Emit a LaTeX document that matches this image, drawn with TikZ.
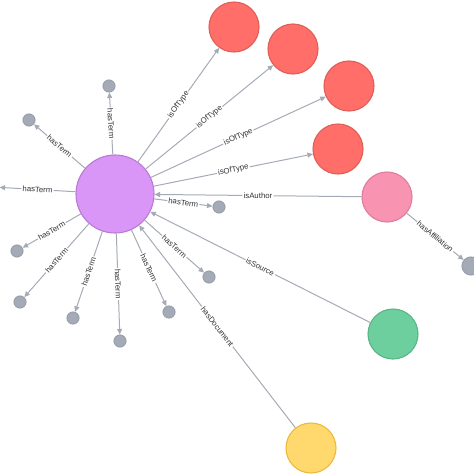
\documentclass[tikz,border=0pt]{standalone}
\usepackage{fontspec}
\setmainfont{Liberation Sans}
\usetikzlibrary{arrows.meta}
\definecolor{edgec}{HTML}{A5ABB6}
\definecolor{labc}{HTML}{333333}
\definecolor{purpf}{HTML}{DA96F6}
\definecolor{purpd}{HTML}{B97AD6}
\definecolor{redf}{HTML}{FF6E68}
\definecolor{redd}{HTML}{E05E57}
\definecolor{pinkf}{HTML}{F893B2}
\definecolor{pinkd}{HTML}{DE7E9C}
\definecolor{greenf}{HTML}{6DCE9E}
\definecolor{greend}{HTML}{5AB487}
\definecolor{yelf}{HTML}{FFD86E}
\definecolor{yeld}{HTML}{EDBA39}
\definecolor{grayf}{HTML}{A5ABB6}
\definecolor{grayd}{HTML}{9AA1AC}
\begin{document}
\begin{tikzpicture}[x=1pt,y=-1pt,
  nd/.style={circle, draw, line width=1.1pt, inner sep=0pt},
  hub/.style={nd, fill=purpf, draw=purpd, minimum size=78pt},
  typenode/.style={nd, fill=redf, draw=redd, minimum size=50pt},
  authnode/.style={nd, fill=pinkf, draw=pinkd, minimum size=50pt},
  srcnode/.style={nd, fill=greenf, draw=greend, minimum size=50pt},
  docnode/.style={nd, fill=yelf, draw=yeld, minimum size=50pt},
  termnode/.style={nd, fill=grayf, draw=grayd, minimum size=12pt},
  affnode/.style={nd, fill=grayf, draw=grayd, minimum size=18pt},
  rel/.style={draw=edgec, line width=1pt, -{Triangle[length=5.5pt,width=5pt]}},
  lbl/.style={sloped, midway, fill=white, inner sep=1.2pt, font=\fontsize{7.8}{9}\selectfont, text=labc}]
\useasboundingbox (0,0) rectangle (474,474);

\node[hub] (c) at (115,194) {};
\node[typenode] (r1) at (234,27) {};
\node[typenode] (r2) at (293,49) {};
\node[typenode] (r3) at (349,86) {};
\node[typenode] (r4) at (338,149) {};
\node[authnode] (au) at (387,197) {};
\node[srcnode] (so) at (393,334) {};
\node[docnode] (doc) at (311,448) {};
\node[affnode] (af) at (471,266) {};

\node[termnode] (t1) at (109,86) {};
\node[termnode] (t2) at (29,120) {};
\node[termnode] (t3) at (-7,187) {};
\node[termnode] (t4) at (219,207) {};
\node[termnode] (t5) at (17,251) {};
\node[termnode] (t6) at (20,302) {};
\node[termnode] (t7) at (73,318) {};
\node[termnode] (t8) at (120,341) {};
\node[termnode] (t9) at (169,312) {};
\node[termnode] (t10) at (209,277) {};

\draw[rel] (c) -- node[lbl]{isOfType} (r1);
\draw[rel] (c) -- node[lbl]{isOfType} (r2);
\draw[rel] (c) -- node[lbl]{isOfType} (r3);
\draw[rel] (c) -- node[lbl]{isOfType} (r4);
\draw[rel] (au) -- node[lbl]{isAuthor} (c);
\draw[rel] (au) -- node[lbl]{hasAffiliation} (af);
\draw[rel] (so) -- node[lbl]{isSource} (c);
\draw[rel] (doc) -- node[lbl]{hasDocument} (c);

\draw[rel] (c) -- node[lbl]{hasTerm} (t1);
\draw[rel] (c) -- node[lbl]{hasTerm} (t2);
\draw[rel] (c) -- node[lbl]{hasTerm} (t3);
\draw[rel] (c) -- node[lbl]{hasTerm} (t4);
\draw[rel] (c) -- node[lbl]{hasTerm} (t5);
\draw[rel] (c) -- node[lbl]{hasTerm} (t6);
\draw[rel] (c) -- node[lbl]{hasTerm} (t7);
\draw[rel] (c) -- node[lbl]{hasTerm} (t8);
\draw[rel] (c) -- node[lbl]{hasTerm} (t9);
\draw[rel] (c) -- node[lbl]{hasTerm} (t10);
\end{tikzpicture}
\end{document}
